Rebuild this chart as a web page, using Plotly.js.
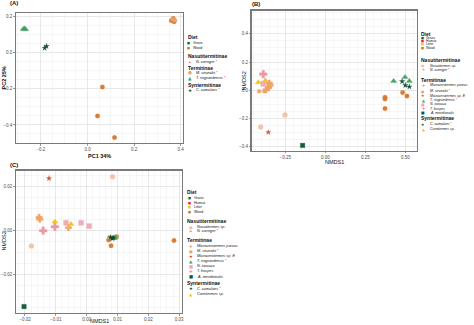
<!DOCTYPE html>
<html>
<head>
<meta charset="utf-8">
<script src="https://cdn.plot.ly/plotly-3.0.1.min.js"></script>
<style>html,body{margin:0;padding:0;background:#fff;}#chart{width:474px;height:325px;}</style>
</head>
<body>
<div id="chart"></div>
<script>
// ---------------- DATA ----------------
const dietNames = ['Grass', 'Humus', 'Litter', 'Wood'];
const dietColors = ['#0b6b3a', '#e3262b', '#f3c417', '#c07a1c'];

const subfamilies = ['Nasutitermitinae', 'Termitinae', 'Syntermitinae'];
const speciesNames = ['Nasutitermes sp.', 'N. corniger', 'Microcerotermes parvus', 'M. strunckii',
  'Microcerotermes sp. E', 'T. riograndensis', 'N. taracua', 'T. hospes', 'A. meridionalis',
  'C. cumulans', 'Cornitermes sp.'];
const speciesSubfamily = ['Nasutitermitinae', 'Nasutitermitinae', 'Termitinae', 'Termitinae',
  'Termitinae', 'Termitinae', 'Termitinae', 'Termitinae', 'Termitinae', 'Syntermitinae', 'Syntermitinae'];
const speciesShared = [false, true, false, true, false, true, false, false, false, true, false];

// Panel A (PCA)
const A_x = {
  'N. corniger': [0.360, 0.368, 0.372, 0.064, 0.043, 0.116],
  'M. strunckii': [0.365, 0.376],
  'T. riograndensis': [-0.276, -0.270, -0.266],
  'C. cumulans': [-0.184, -0.176]
};
const A_y = {
  'N. corniger': [0.178, 0.190, 0.172, -0.190, -0.350, -0.470],
  'M. strunckii': [0.185, 0.180],
  'T. riograndensis': [0.131, 0.134, 0.129],
  'C. cumulans': [0.026, 0.036]
};
// Panel B (NMDS)
const B_x = {
  'Nasutitermes sp.': [-0.252, -0.404],
  'N. corniger': [0.483, 0.510, 0.373, 0.373, 0.373],
  'Microcerotermes parvus': [-0.350, -0.354, -0.345, -0.370],
  'M. strunckii': [-0.413, -0.381, -0.362],
  'Microcerotermes sp. E': [-0.356],
  'T. riograndensis': [0.427, 0.498, 0.525],
  'N. taracua': [-0.388],
  'T. hospes': [-0.3875],
  'A. meridionalis': [-0.142],
  'C. cumulans': [0.480, 0.500, 0.525],
  'Cornitermes sp.': [-0.419, -0.375]
};
const B_y = {
  'Nasutitermes sp.': [-0.175, -0.260],
  'N. corniger': [-0.016, -0.040, -0.050, -0.062, -0.129],
  'Microcerotermes parvus': [0.050, 0.020, 0.035, 0.005],
  'M. strunckii': [-0.007, -0.007, 0.012],
  'Microcerotermes sp. E': [-0.297],
  'T. riograndensis': [0.065, 0.093, 0.065],
  'N. taracua': [0.045],
  'T. hospes': [0.114],
  'A. meridionalis': [-0.390],
  'C. cumulans': [0.063, 0.035, 0.025],
  'Cornitermes sp.': [0.056, 0.070]
};
// Panel C (NMDS)
const C_x = {
  'Nasutitermes sp.': [0.0084, -0.0179],
  'N. corniger': [0.0071, 0.0079, 0.0097, 0.0283],
  'Microcerotermes parvus': [-0.0154, -0.0152, -0.0059],
  'M. strunckii': [0.0073, 0.0095],
  'Microcerotermes sp. E': [-0.0122],
  'T. riograndensis': [0.0088, 0.0092],
  'N. taracua': [-0.0067, -0.0018, 0.0008],
  'T. hospes': [-0.0103, -0.0141],
  'A. meridionalis': [-0.0203],
  'C. cumulans': [0.0078, 0.0083, 0.0086],
  'Cornitermes sp.': [-0.0103, -0.0051]
};
const C_y = {
  'Nasutitermes sp.': [0.0245, -0.0070],
  'N. corniger': [-0.0042, -0.0068, -0.0027, -0.0044],
  'Microcerotermes parvus': [0.0061, 0.0052, 0.0014],
  'M. strunckii': [-0.0030, -0.0032],
  'Microcerotermes sp. E': [0.0238],
  'T. riograndensis': [-0.0034, -0.0030],
  'N. taracua': [0.0036, 0.0036, 0.0021],
  'T. hospes': [0.0018, 0.0000],
  'A. meridionalis': [-0.0345],
  'C. cumulans': [-0.0030, -0.0035, -0.0033],
  'Cornitermes sp.': [0.0041, 0.0030]
};

const A_diets = ['Grass', 'Wood'];
const BC_diets = ['Grass', 'Humus', 'Litter', 'Wood'];

// ---------------- STYLE ----------------
const STYLE = {
  'Nasutitermes sp.':       {symbol: 'circle',        color: '#f5bfa6', size: 5,   glyph: '●'},
  'N. corniger':            {symbol: 'circle',        color: '#d7762c', size: 4.5, glyph: '✶'},
  'Microcerotermes parvus': {symbol: 'cross',         color: '#f0a467', size: 5.5, glyph: '✚'},
  'M. strunckii':           {symbol: 'circle',        color: '#eaa36a', size: 4,   glyph: '●'},
  'Microcerotermes sp. E':  {symbol: 'star',          color: '#c9502e', size: 4,   glyph: '★'},
  'T. riograndensis':       {symbol: 'triangle-up',   color: '#46a066', size: 5.5, glyph: '▲'},
  'N. taracua':             {symbol: 'square',        color: '#f3a6b5', size: 5,   glyph: '■'},
  'T. hospes':              {symbol: 'cross',         color: '#ee93a3', size: 6.5, glyph: '✚'},
  'A. meridionalis':        {symbol: 'square',        color: '#0d5633', size: 4.5, glyph: '■'},
  'C. cumulans':            {symbol: 'star',          color: '#0c4a2b', size: 4,   glyph: '★'},
  'Cornitermes sp.':        {symbol: 'triangle-up',   color: '#f4c21c', size: 5.5, glyph: '▲'}
};

const W = 474, H = 325;
const px = v => v / W;
const py = v => 1 - v / H;

const traces = [];
function addPanel(X, Y, xa, ya) {
  speciesNames.forEach(sp => {
    if (!X[sp]) return;
    const s = STYLE[sp];
    traces.push({
      type: 'scatter', mode: 'markers', name: sp, showlegend: false,
      x: X[sp], y: Y[sp], xaxis: xa, yaxis: ya,
      marker: {symbol: s.symbol, color: s.color, size: s.size, opacity: 0.95,
               line: {width: 0.3, color: s.color}},
      hoverinfo: 'name+x+y'
    });
  });
}
addPanel(A_x, A_y, 'x', 'y');
addPanel(B_x, B_y, 'x2', 'y2');
addPanel(C_x, C_y, 'x3', 'y3');

const FONT = 'Liberation Sans, Arial, sans-serif';
function axis(domain, range, dtick, fmt, anchor) {
  return {
    domain: domain, range: range, dtick: dtick, tickformat: fmt, anchor: anchor,
    showline: true, mirror: true, linecolor: '#7a7a7a', linewidth: 1.4,
    ticks: 'outside', ticklen: 1.5, tickcolor: '#555', tickwidth: 0.6,
    tickfont: {family: FONT, size: 4.5, color: '#4d4d4d'},
    showgrid: true, gridcolor: '#dedede', gridwidth: 0.7,
    minor: {showgrid: true, gridcolor: '#eeeeee', gridwidth: 0.5},
    zeroline: false, automargin: false, fixedrange: true
  };
}

const annotations = [];
function txt(x, y, text, opts) {
  annotations.push(Object.assign({
    xref: 'paper', yref: 'paper', x: px(x), y: py(y), text: text, showarrow: false,
    xanchor: 'left', yanchor: 'middle', borderpad: 0,
    font: {family: FONT, size: 4, color: '#111'}
  }, opts || {}));
}

// panel labels
txt(9, 3.5, '<b>(A)</b>', {font: {family: FONT, size: 6, color: '#111'}});
txt(251, 4.5, '<b>(B)</b>', {font: {family: FONT, size: 6, color: '#111'}});
txt(9, 165, '<b>(C)</b>', {font: {family: FONT, size: 6, color: '#111'}});

// axis titles
const tFont = {family: FONT, size: 5.5, color: '#111'};
txt(99.5, 155.5, '<b>PC1 34%</b>', {xanchor: 'center', font: tFont});
txt(3.5, 78, '<b>PC2 25%</b>', {xanchor: 'center', textangle: -90, font: tFont});
txt(334, 161.5, 'NMDS1', {xanchor: 'center', font: tFont});
txt(243.5, 81, 'NMDS2', {xanchor: 'center', textangle: -90, font: tFont});
txt(99, 320.5, 'NMDS1', {xanchor: 'center', font: tFont});
txt(3.5, 241, 'NMDS2', {xanchor: 'center', textangle: -90, font: tFont});

// legends
function legend(cfg, diets, species, rowsY) {
  let i = 0;
  const titleFont = {family: FONT, size: 5, color: '#111'};
  txt(cfg.tx, rowsY[i++], '<b>Diet</b>', {font: titleFont});
  diets.forEach(d => {
    const y = rowsY[i++];
    txt(cfg.dm, y, '■', {xanchor: 'center', font: {family: 'DejaVu Sans', size: 3.2, color: dietColors[dietNames.indexOf(d)]}});
    txt(cfg.dt, y, d, {font: {family: FONT, size: cfg.fs - 0.2, color: '#111'}});
  });
  subfamilies.forEach(sf => {
    const list = species.filter(sp => speciesSubfamily[speciesNames.indexOf(sp)] === sf);
    if (!list.length) return;
    txt(cfg.tx, rowsY[i++], '<b>' + sf + '</b>', {font: titleFont});
    list.forEach(sp => {
      const y = rowsY[i++];
      const s = STYLE[sp];
      txt(cfg.sm, y, s.glyph, {xanchor: 'center', font: {family: 'DejaVu Sans', size: cfg.gs, color: s.color}});
      const mark = speciesShared[speciesNames.indexOf(sp)] ? ' <span style="color:#e3262b">*</span>' : '';
      txt(cfg.st, y, '<i>' + sp + '</i>' + mark, {font: {family: FONT, size: cfg.fs, color: '#111'}});
    });
  });
}
const A_species = Object.keys(A_x);
const BC_species = speciesNames;
legend({tx: 186.5, dm: 188.5, dt: 191.5, sm: 189.5, st: 194.5, gs: 4.5, fs: 3.8}, A_diets,
  speciesNames.filter(s => A_species.includes(s)),
  [37.3, 42.7, 47.5, 56, 62, 67.7, 72.9, 78.2, 85, 90.3]);
legend({tx: 420, dm: 422, dt: 425, sm: 423, st: 428.5, gs: 3.8, fs: 3.5}, BC_diets, BC_species,
  [33.5, 38, 41.2, 44.4, 47.6, 59.5, 65.5, 69.7, 79.5, 85.3, 91, 95.5, 100, 104.3, 108.5, 112.7, 118.3, 124.3, 129.3]);
legend({tx: 186, dm: 189, dt: 192.5, sm: 190.5, st: 195.5, gs: 4.3, fs: 3.8}, BC_diets, BC_species,
  [192.3, 198, 202.5, 207, 211.5, 221.2, 227, 231.3, 240, 246, 251, 256, 261.2, 266.3, 271.4, 276.5, 283, 288.7, 294]);

const layout = {
  width: W, height: H, margin: {l: 0, r: 0, t: 0, b: 0},
  paper_bgcolor: '#fff', plot_bgcolor: '#fff', showlegend: false,
  xaxis: axis([px(16), px(183)], [-0.307, 0.41], 0.2, '.1f', 'y'),
  yaxis: axis([py(143), py(13)], [-0.5, 0.22], 0.2, '.1f', 'x'),
  xaxis2: axis([px(251.7), px(416.7)], [-0.46, 0.571], 0.25, '.2f', 'y2'),
  yaxis2: axis([py(150.5), py(10.7)], [-0.426, 0.563], 0.2, '.1f', 'x2'),
  xaxis3: axis([px(16), px(181.7)], [-0.0229, 0.0308], 0.01, '.2f', 'y3'),
  yaxis3: axis([py(312.7), py(170.7)], [-0.0373, 0.0273], 0.02, '.2f', 'x3'),
  annotations: annotations,
  font: {family: FONT}
};

Plotly.newPlot('chart', traces, layout, {displayModeBar: false, staticPlot: true});
</script>
</body>
</html>
